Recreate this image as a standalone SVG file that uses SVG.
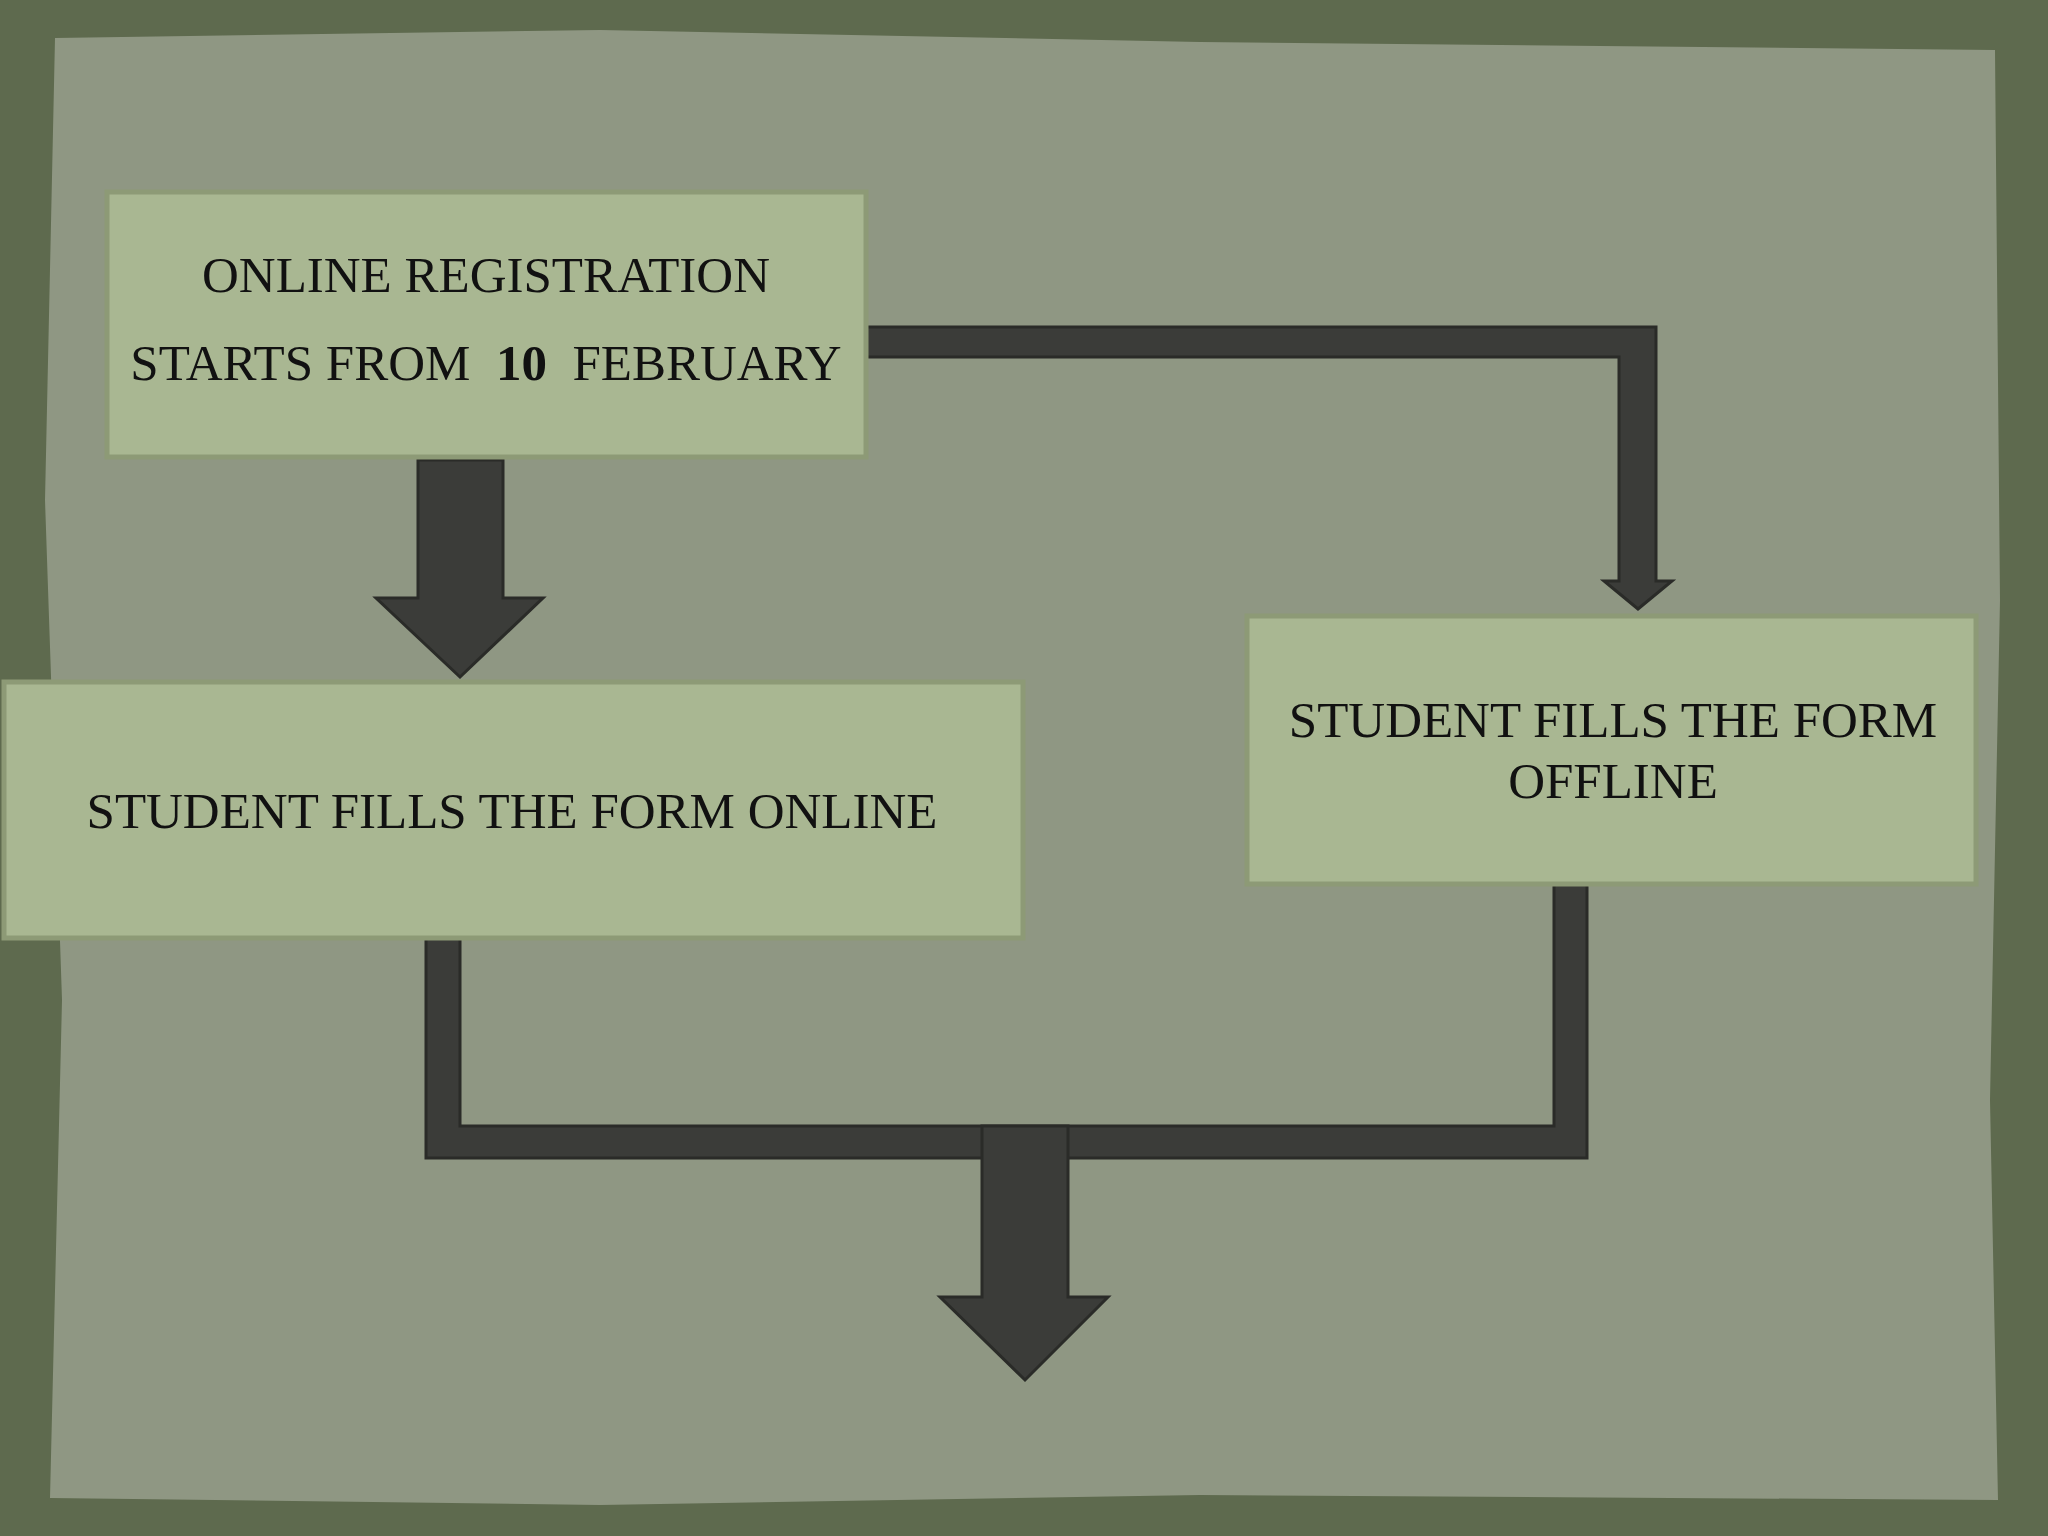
<svg xmlns="http://www.w3.org/2000/svg" width="2048" height="1536" viewBox="0 0 2048 1536">
<style>
.box{fill:#a9b792;stroke:#8d9a76;stroke-width:5}
.t{font-family:"Liberation Serif",serif;font-size:51px;fill:#111;text-anchor:middle}
.c{fill:#3b3c39;stroke:#2a2b28;stroke-width:3}
</style>
<rect width="2048" height="1536" fill="#5e6a4e"/>
<path d="M55,38 L600,30 L1200,42 L1995,50 L2000,600 L1990,1100 L1998,1500 L1200,1495 L600,1505 L50,1498 L62,1000 L45,500 Z" fill="#8f9783"/>
<g id="connectors">
<path class="c" d="M866,327 H1656 V581 H1672 L1638,609 L1604,581 H1619 V357 H866 Z"/>
<path class="c" d="M418,460 H503 V598 H543 L460,677 L376,598 H418 Z"/>
<path class="c" d="M426,938 H460 V1126 H1554 V884 H1587 V1158 H426 Z"/>
<path class="c" d="M982,1126 H1068 V1297 H1108 L1025,1380 L940,1297 H982 Z"/>
</g>
<g id="n1"><rect class="box" x="107" y="192" width="759" height="265"/>
<text class="t" x="486" y="292">ONLINE REGISTRATION</text>
<text class="t" x="486" y="380" xml:space="preserve">STARTS FROM  <tspan font-weight="bold">10</tspan>  FEBRUARY</text></g>
<g id="n2"><rect class="box" x="4" y="682" width="1019" height="256"/>
<text class="t" x="512" y="828">STUDENT FILLS THE FORM ONLINE</text></g>
<g id="n3"><rect class="box" x="1247" y="616" width="729" height="268"/>
<text class="t" x="1613" y="737">STUDENT FILLS THE FORM</text>
<text class="t" x="1613" y="798">OFFLINE</text></g>
</svg>
